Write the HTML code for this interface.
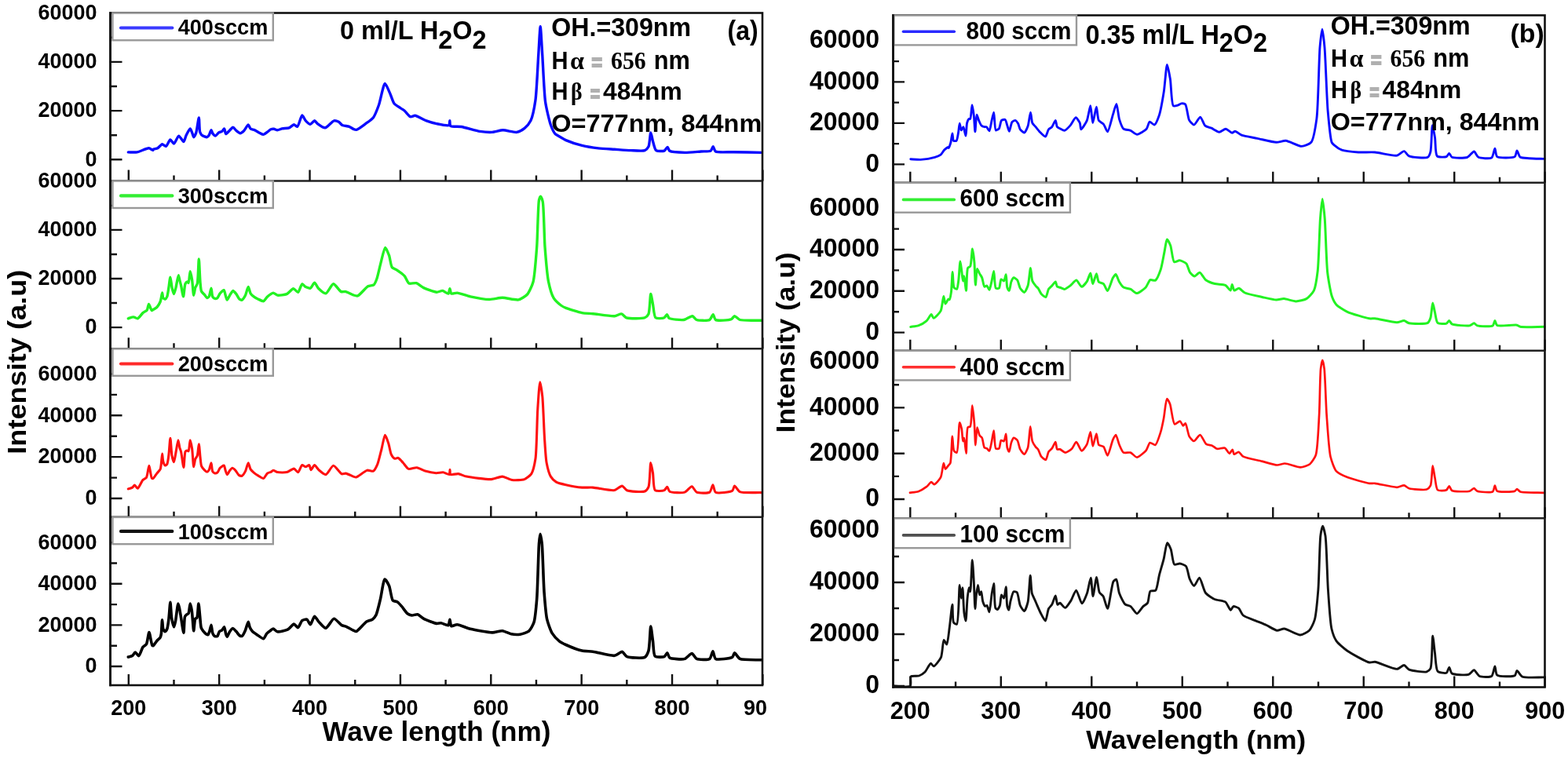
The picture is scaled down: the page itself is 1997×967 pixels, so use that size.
<!DOCTYPE html>
<html><head><meta charset="utf-8"><title>OES spectra</title>
<style>html,body{margin:0;padding:0;background:#fff;overflow:hidden;}svg{display:block;}</style>
</head><body>
<svg width="1997" height="967" viewBox="0 0 1997 967">
<rect x="0" y="0" width="1997" height="967" fill="#fff"/>
<defs><clipPath id="clipL"><rect x="0" y="0" width="976" height="967"/></clipPath></defs>
<g>
<path fill="none" stroke="#0a0aff" stroke-width="3.4" stroke-linejoin="round" stroke-linecap="round" d="M163.3 193.9C165.73 193.9 171.93 194.32 174.5 193.9C177.55 193.4 187.1 188.65 189.5 188.8C190.97 188.89 194.39 191.6 194.8 191.4C194.97 191.32 194.82 190.6 195 190.4C195.44 189.93 199.61 189.43 200.8 188.8C202.14 188.08 205.35 183.95 206.6 183.8C207.66 183.67 210.52 186.56 211.5 186.3C212.82 185.95 215.71 178.1 216.9 178C217.88 177.92 220.49 183.09 221.5 183C222.82 182.88 226.29 173.2 227.7 173.1C228.99 173.01 232.86 180.67 233.9 180.5C234.9 180.34 236.32 173.96 237.2 172.2C238.11 170.38 241.34 163.96 242.2 164C242.85 164.03 244.12 167.78 244.6 168.9C245.11 170.09 246.15 174.65 246.7 174.7C247.24 174.75 249.04 171.21 249.6 169.7C250.64 166.89 252.76 149.87 253.3 149.9C253.82 149.93 253.81 165.62 254.6 168.1C255.01 169.37 256.27 171.51 257.1 172.2C258.11 173.03 262.66 174.92 263.7 174.7C264.44 174.54 265.71 172.93 266.2 172.2C266.9 171.16 268.47 165.6 269 165.6C269.42 165.6 270.15 168.91 270.7 169.7C271.29 170.54 273.58 173.12 274.4 173.1C275.29 173.08 277.62 169.54 278.6 168.9C279.44 168.35 281.94 167.83 282.7 167.3C283.46 166.77 285.09 163.89 285.6 164C286.24 164.13 286.95 170.4 287.7 170.6C288.41 170.79 291.21 167.3 292.2 166.4C293.19 165.5 295.84 162.27 296.8 162.3C297.73 162.33 299.92 165.6 300.9 166.4C301.89 167.21 304.82 169.71 305.9 169.7C306.97 169.7 309.79 167.37 310.8 166.4C312.05 165.19 315.24 158.95 316.2 159C316.96 159.04 318.21 163.29 319.1 164C319.95 164.68 323 165.12 324.1 165.6C325.34 166.14 328.63 168.26 329.9 168.9C331.12 169.51 334.43 171.5 335.6 171.4C336.75 171.3 339.56 168.83 340.6 168.1C341.59 167.4 344.03 165.2 345 164.8C345.81 164.47 347.95 164.22 348.8 164.3C349.74 164.39 352.25 165.79 353.3 165.8C354.51 165.81 357.85 164.21 359.3 163.9C361.04 163.52 366.61 163.43 368.3 162.8C369.81 162.24 373.08 158.85 374.3 158.8C375.33 158.76 377.91 161.61 378.8 161.3C380.35 160.76 383.47 147.12 384.8 147C385.76 146.91 388.13 152.56 389.3 153.8C390.42 154.99 394.05 158.34 395.3 158.3C396.5 158.26 399.56 153.76 400.6 153.8C401.51 153.84 403.31 156.79 404.4 157.6C405.96 158.76 411.98 162.99 414.1 162.8C416.53 162.58 423.23 154.27 425.4 153.8C426.82 153.49 430.26 154.69 431.4 155.3C432.53 155.91 434.65 158.76 435.9 159.4C437.44 160.19 443.27 160.65 444.9 161.3C446.21 161.82 448.94 163.95 450 164.4C450.87 164.77 452.87 165.57 453.9 165.4C455.82 165.08 463.3 159.35 465.7 157.6C467.96 155.95 473.77 151.97 475.5 149.7C477.52 147.05 480.98 137.93 482.4 134C484.24 128.92 488.4 106.68 490.3 106.5C491.69 106.37 495.88 117.32 497.2 120.2C498.41 122.83 500.35 129.84 502.1 132C504.02 134.38 512.45 138.84 514.8 140.8C516.8 142.47 520.97 148.21 522.7 148.7C523.97 149.06 527.08 147.15 528.6 147.3C531 147.53 539.37 152.47 542.4 153.6C545.33 154.69 553 156.97 556.1 157.6C559.36 158.27 570.29 160.63 571.8 159.5C572.73 158.8 572.59 153.6 572.8 153.6C573.03 153.6 572.79 159.56 573.8 160.5C575.22 161.82 584.24 160.96 587.6 161.5C592.05 162.21 606.48 166.68 611.1 167.4C614.83 167.98 623.61 168.6 626.9 168.4C629.99 168.21 637.44 165.87 640.6 165.8C644.18 165.73 655.1 168.93 658.3 168.4C660.81 167.99 666.23 164.92 668.1 163.4C670.1 161.78 674.63 156.42 676 153.6C677.98 149.53 680.91 134.82 681.9 128.1C683.39 118.01 685.05 80.25 685.8 69.1C686.38 60.47 687.67 33.8 688.2 33.8C688.73 33.8 690.11 60.41 690.7 69.1C691.47 80.51 693.01 119.22 694.6 130C695.72 137.59 699.79 154.75 701.5 159.5C702.58 162.5 705.57 168.78 706.9 170.3C707.78 171.31 710.15 172.59 711.3 173.3C712.94 174.32 718.2 177.5 720.7 178.6C724.24 180.16 736.79 184.28 741.3 185.4C745.74 186.5 757.51 188.37 762 188.9C766.46 189.43 778.13 190.01 782.6 190.3C787.08 190.59 798.98 191.46 803.3 191.6C807.32 191.73 818.68 192.65 821.2 191.6C822.75 190.96 825.21 188.35 826 186.8C827.28 184.27 828.12 168.93 828.8 168.9C829.34 168.88 830.78 177.59 831.5 180C832.25 182.5 833.9 190.33 835.6 191.6C837.17 192.76 844.37 192.79 846 192.1C847.26 191.57 849.34 187.42 850.1 187.5C850.82 187.57 851.73 191.54 852.9 192.3C855.09 193.72 867.86 194.31 872.1 194.4C876.5 194.49 888.89 193.27 892.8 193C895.83 192.79 903.55 193.15 905.2 192.1C906.36 191.37 907.55 186.79 908.2 186.8C908.89 186.81 909.98 192.11 911.4 193C913.96 194.61 928.62 193.56 934.1 193.7C940.98 193.87 962.14 194.25 969.9 194.4"/>
<path fill="none" stroke="#22f222" stroke-width="3.4" stroke-linejoin="round" stroke-linecap="round" d="M163.3 405.8C164.75 405.39 168.64 403.85 170 403.9C171.22 403.94 174.17 406.07 175.3 405.8C176.79 405.44 180.57 399.84 182 398.6C183.16 397.59 186.49 396.02 187.3 394.9C188.19 393.66 188.88 387.45 189.5 387.4C190.16 387.35 192.51 395.37 193.3 395.6C193.68 395.71 194.54 394.8 195 394.5C195.8 393.98 199.06 392.17 200 391.2C201.08 390.09 203.52 385.88 204.1 384.5C204.56 383.39 205.05 380.75 205.3 379.6C205.59 378.26 206.33 372.9 206.6 372.9C206.87 372.9 207.2 378.71 207.8 379.6C208.19 380.19 209.8 381.29 210.3 381.2C210.89 381.09 212.36 378.9 212.8 377.9C213.54 376.21 214.47 368.9 214.9 366.3C215.36 363.54 216.46 353.1 216.9 353.1C217.34 353.1 218.42 363.79 219 366.3C219.46 368.32 220.96 374.6 221.5 374.6C222.04 374.6 223.47 368.4 224 366.3C224.73 363.45 226.7 350.61 227.3 350.6C227.69 350.59 228.54 355.77 228.9 357.2C229.26 358.63 230.21 362.1 230.6 363.8C231.17 366.28 232.93 377.91 233.5 377.9C234.11 377.88 235.05 363.34 236 361.4C236.43 360.52 237.92 358.91 238.4 358.9C238.79 358.89 239.79 360.61 240.1 360.5C240.9 360.22 241.66 345.62 242.2 345.6C242.66 345.58 244.16 353.69 244.6 356.4C245.2 360.04 246.14 376.27 246.7 376.3C247.1 376.32 248.18 368.05 248.8 366.3C249.25 365.01 250.86 362.99 251.3 361.4C252.34 357.6 252.89 329.9 253.3 329.9C253.69 329.9 254.52 354.75 255 359.7C255.3 362.8 255.75 369.51 256.6 371.3C257.18 372.53 259.62 374.49 260.4 375.4C261.16 376.29 262.98 379.49 263.7 379.6C264.24 379.68 265.74 378.56 266.2 377.9C267.09 376.64 268.51 367.18 269 367.2C269.48 367.22 269.9 376.46 270.7 377.9C271.18 378.75 272.9 380.23 273.6 380.4C274.26 380.56 276.27 380.07 276.9 379.6C277.78 378.93 279.29 374.89 280.2 373.8C281.1 372.72 284.44 369.37 285.2 369.6C285.98 369.83 286.74 374.91 287.2 376.3C287.63 377.61 288.73 382.05 289.3 382.1C289.89 382.15 291.8 377.54 292.6 376.3C293.42 375.02 295.85 370.58 296.8 370.5C297.66 370.43 300.07 373.55 300.9 374.6C301.86 375.81 304 380.45 305 381.2C305.66 381.7 307.62 382.34 308.3 382.1C309.28 381.75 311.71 377.82 312.5 376.3C313.5 374.38 315.44 365.5 316.2 365.5C316.86 365.5 318.21 372.39 319.1 373.8C319.82 374.94 322.18 377.12 323.2 377.9C324.3 378.74 327.68 380.58 329 381.2C330.36 381.84 334.36 384.01 335.6 383.7C336.89 383.37 339.49 378.93 340.6 377.9C341.54 377.02 344.11 375.15 345 374.6C345.69 374.17 347.26 373.08 348 373.1C348.99 373.13 351.86 375.82 353.3 376.1C355.33 376.5 363.06 375.56 365.3 374.6C367.41 373.69 371.93 367.84 373.6 367.8C374.99 367.77 378.48 372.57 379.6 372.3C381 371.97 383.53 362.06 384.8 361.8C385.7 361.61 388.18 365.03 389.3 365.6C390.45 366.19 394.15 367.5 395.3 367.1C396.66 366.63 399.47 360.27 400.6 360.3C401.77 360.33 404.44 366.38 405.9 367.8C407.48 369.34 413.04 374.08 414.9 373.8C417.13 373.46 422.43 361.91 424.6 361.8C426.66 361.69 432.37 370.76 434.4 371.6C435.74 372.15 438.98 371.3 440.4 371.6C442.28 372 448.17 375.34 450 375.9C451.35 376.32 454.25 377.3 455.6 376.9C457.99 376.2 466 366.22 468.6 364.8C470.32 363.86 474.89 363.87 476.1 362.9C477.35 361.9 479.03 357.59 479.8 355.5C481.09 352.01 484.16 337.66 485.4 333.1C486.51 329.03 489.33 315.51 490.6 315.4C491.6 315.32 494.7 323.21 495.6 325.7C496.64 328.58 497.77 338.6 499.3 340.6C500.37 342.01 504.39 343.29 505.9 344.3C507.79 345.57 513.57 349.84 515.2 351.7C516.76 353.48 519.09 360.07 520.8 361C522.39 361.86 528.16 360.17 530.1 360.7C532.21 361.28 537.01 365.46 539.4 366.6C542.42 368.04 553.18 372.07 556.1 372.2C558.03 372.29 562.01 370.22 563.6 370.4C565.24 370.59 570 374.54 571 374.1C571.91 373.71 572.49 367.6 572.9 367.6C573.31 367.6 573.84 373.48 574.8 374.1C575.8 374.75 580.29 372.97 582.2 373.1C585.12 373.3 595 376.94 599 377.8C603.74 378.82 618.44 381.45 623.2 381.5C627.15 381.54 636.1 379.31 639.9 379.3C644.11 379.29 656.74 382.69 660.4 381.9C663.32 381.27 669.65 377.18 671.6 375C673.84 372.49 677.77 363.63 679 359.2C680.98 352.1 682.91 324.89 683.7 314.5C684.61 302.53 685.27 260.52 686.5 254.9C686.86 253.26 687.94 250.2 688.4 250.2C688.94 250.2 690.7 254.6 691.2 256.8C692.63 263.06 693.12 302.81 694 314.5C694.78 324.81 696.99 351.44 698.6 359.2C699.71 364.57 703.04 376.3 705.1 379.7C706.71 382.36 712.48 387.57 714.4 389C715.82 390.06 718.89 391.65 720.7 392.4C723.83 393.7 737.25 397.84 741.3 398.6C744.55 399.21 751.6 399.37 755.1 399.7C760.04 400.17 778.29 403.12 782.6 402.7C785.11 402.46 789.9 399.58 791.6 399.9C793.15 400.19 795.87 404.13 797.8 404.8C801.13 405.96 818.17 406.07 821.2 404.8C822.84 404.11 825.21 401.57 826 399.9C827.53 396.67 828.07 374.53 828.8 374.5C829.32 374.48 830.88 384.48 831.5 387.5C832.21 390.98 832.98 403.15 835 404.8C836.6 406.11 844.4 405.56 846 404.8C847.12 404.26 848.73 400.55 849.4 400.6C850.08 400.65 851.03 404.64 852.2 405.4C854.34 406.8 867.36 408.02 870.8 407.5C873.56 407.08 879.9 402.41 881.8 402.7C883.28 402.93 885.63 406.88 887.3 407.5C889.8 408.44 901.53 408.75 903.8 407.5C905.4 406.62 907.37 400.54 908.2 400.6C909 400.65 909.95 406.61 911.4 407.5C913.74 408.94 928.7 407.91 931.3 406.8C932.71 406.2 934.44 402.79 935.5 402.7C936.77 402.59 940.26 406.8 942.4 407.5C946.26 408.77 963.94 408.05 969.9 408.2"/>
<path fill="none" stroke="#ff1010" stroke-width="3.1" stroke-linejoin="round" stroke-linecap="round" d="M163.3 622.9C164.43 622.51 167.58 621.68 168.5 621.1C169.31 620.59 170.82 618.08 171.5 618.1C172.28 618.12 174.42 622.38 175.3 622.3C176.62 622.18 180.52 612.95 182 611.4C182.96 610.38 185.73 609.44 186.5 608.3C187.8 606.38 189.17 593.3 189.9 593.3C190.65 593.3 192.27 608.05 193.3 609.1C193.64 609.44 194.59 609.65 195 609.5C195.89 609.18 198.96 604.22 200 602.9C200.92 601.73 203.53 599.14 204.1 597.9C204.69 596.63 205.06 592.98 205.3 591.3C205.63 588.94 206.31 578.1 206.6 578.1C206.85 578.1 207.27 586.25 207.8 588C208.19 589.31 209.65 592.83 210.3 593C210.78 593.13 212.36 591.97 212.8 591.3C213.66 589.97 214.5 582.61 214.9 579.7C215.44 575.76 216.46 558.2 216.9 558.2C217.35 558.2 218.28 576.97 219 580.6C219.44 582.84 221 588.82 221.5 588.8C222.11 588.77 223.45 579.25 224 576.4C224.62 573.2 226.32 560.7 226.9 560.7C227.36 560.7 228.42 568.83 228.9 570.6C229.25 571.88 230.23 574.14 230.6 575.6C231.32 578.46 233.31 595.52 233.9 595.5C234.48 595.48 234.99 577.45 236 575.6C236.36 574.94 237.54 574.07 238 574C238.43 573.93 239.72 575.02 240.1 574.8C241.05 574.24 241.67 560.72 242.2 560.7C242.66 560.68 244.16 568.7 244.6 571.5C245.23 575.55 246.1 594.56 246.7 594.6C247.09 594.62 248.15 586.34 248.8 584.7C249.25 583.57 250.87 581.83 251.3 580.6C252.07 578.43 252.91 565.69 253.3 565.7C253.71 565.71 254.61 578.94 255 582.2C255.33 584.94 255.8 591.88 256.6 593.8C257.18 595.2 259.55 597.95 260.4 598.8C261.09 599.49 263.05 601.34 263.7 601.3C264.3 601.26 265.72 599.59 266.2 598.8C266.98 597.5 268.52 589.67 269 589.7C269.51 589.74 269.9 598.96 270.7 600.4C271.18 601.25 272.9 602.73 273.6 602.9C274.26 603.06 276.27 602.57 276.9 602.1C277.78 601.43 279.27 597.3 280.2 596.3C281.09 595.35 284.44 592.73 285.2 593C286.01 593.29 286.72 598.28 287.2 599.6C287.62 600.77 288.74 604.55 289.3 604.6C289.89 604.66 291.83 600.54 292.6 599.6C293.28 598.77 295.12 596.35 295.9 596.3C296.74 596.25 299.25 598.71 300.1 599.6C301.07 600.63 303.16 604.73 304.2 605.4C305 605.92 307.5 606.52 308.3 606.2C309.35 605.78 311.71 601.92 312.5 600.4C313.49 598.49 315.44 589.7 316.2 589.7C316.86 589.7 318.22 596.49 319.1 597.9C319.82 599.06 322.19 601.24 323.2 602.1C324.31 603.05 327.67 605.4 329 606.2C330.35 607.01 334.37 609.79 335.6 609.5C336.91 609.2 339.41 603.78 340.6 602.9C341.49 602.24 344.16 601.73 345 601.3C345.74 600.93 347.24 599.37 348 599.3C348.97 599.21 351.88 601.31 353.3 601.6C355.34 602.02 362.95 602.16 365.3 601.6C367.46 601.09 372.66 596.9 374.3 597.1C375.66 597.26 378.55 601.78 379.6 601.6C380.88 601.38 383.51 592.99 384.8 592.6C385.7 592.33 388.32 594.8 389.3 594.8C390.29 594.8 393.17 592.3 393.9 592.6C394.71 592.93 395.42 598.5 396.1 598.6C396.84 598.71 399.56 592.64 400.6 592.6C401.68 592.56 404.51 597.38 405.9 598.6C407.52 600.01 413.02 604.86 414.9 604.6C417.1 604.3 422.4 593.39 424.6 593.3C426.8 593.21 433.15 603.11 435.2 603.8C436.41 604.21 439.13 602.93 440.4 603.1C442.19 603.34 448.42 606.57 450 607.1C450.93 607.41 452.53 608.15 453.5 608C455.58 607.68 464.89 599.81 467.6 599.2C469.48 598.78 474.12 600.78 475.5 600.1C477.07 599.33 479.79 593.66 480.8 591.3C482.2 588 484.94 576.09 486 572C487.01 568.1 489.31 554.48 490.4 554.4C491.27 554.33 493.98 562.42 494.8 564.9C495.73 567.7 497.17 576.77 498.3 579C499.08 580.54 501.62 583.92 502.7 584.3C503.57 584.61 506.14 583.12 507.1 583.4C508.43 583.79 511.94 588.07 513.3 589.5C514.8 591.08 518.4 596.72 520.3 597.4C522.21 598.08 528.65 595.43 530.9 595.7C533.22 595.98 538.91 599.36 541.4 600.1C544.19 600.93 552.8 602.59 555.5 602.7C557.62 602.79 562.47 601.59 564.3 601.8C566.08 602 571.3 605.06 572.2 604.5C572.98 604.01 572.82 598.3 573 598.3C573.18 598.3 573.04 603.82 573.9 604.5C574.97 605.34 581.48 603.36 583.6 603.6C585.86 603.86 591.17 606.46 594.1 607.1C599.08 608.19 620.34 610.97 625.8 610.6C629.47 610.35 636.89 606.96 639.8 607.1C642.57 607.24 649.22 611.08 652.1 611.5C655.28 611.96 665.19 611.67 668 610.6C670.36 609.7 675.35 605.81 676.8 603.6C678.74 600.65 681.16 589.72 682 584.3C683.47 574.78 683.97 534.26 684.7 522.7C685.26 513.85 686.89 486.73 687.7 486.7C688.29 486.68 690.25 500.15 690.8 505.2C691.72 513.68 692.84 547.94 693.5 557.9C694.02 565.62 695 583.7 696.1 589.5C696.94 593.92 699.72 604.29 701.4 607.1C702.63 609.16 706.5 612.97 708.4 614.1C710.57 615.38 717.67 617.01 720.7 617.7C724.57 618.58 737.27 620.77 741.3 621.1C744.58 621.37 751.61 620.88 755.1 621.1C760.05 621.41 778.26 625.46 782.6 624.6C785.35 624.06 790.5 618.89 792.3 619.1C793.87 619.28 796.53 623.97 798.5 624.8C801.73 626.16 818.25 627.26 821.2 626C822.88 625.28 825.2 622.29 826 620.4C827.63 616.53 828.02 589.54 828.8 589.5C829.31 589.47 830.97 599.3 831.5 602.5C832.19 606.65 832.02 622.59 834.3 624.6C835.95 626.06 844.26 625.37 846 624.6C847.21 624.06 849.07 620.31 849.8 620.4C850.58 620.5 851.58 625.37 852.9 626.2C855.16 627.63 868.87 628.16 872.1 627.1C874.61 626.28 879.4 619.64 881.1 619.8C882.65 619.94 885.36 626.2 887.3 627.1C889.85 628.28 901.59 628.54 903.8 627.1C905.54 625.96 907.08 617.67 907.9 617.7C908.72 617.73 909.65 626.19 911.4 627.3C913.93 628.9 930.35 626.98 932.7 625.3C934.03 624.35 934.62 619.24 935.5 619.1C936.58 618.93 940.1 625.54 942.4 626.6C946.18 628.34 963.94 627.38 969.9 627.6"/>
<path fill="none" stroke="#000" stroke-width="3.6" stroke-linejoin="round" stroke-linecap="round" d="M163.3 837.1C164.43 836.77 167.54 836.22 168.5 835.6C169.5 834.95 171.42 831.14 172.3 831.1C173.21 831.06 175.89 835.76 176.8 835.6C178.06 835.38 180.7 826.1 182 824.4C182.89 823.23 185.72 821.88 186.5 820.6C187.75 818.54 189.13 805.6 189.9 805.6C190.71 805.6 192.91 820.89 193.8 822.1C194.06 822.45 194.69 822.86 195 822.8C195.77 822.65 198.93 817.43 200 816.2C200.9 815.17 203.53 813.07 204.1 812.1C204.6 811.25 205.08 809.14 205.3 807.9C205.75 805.36 206.29 789.7 206.6 789.7C206.84 789.7 207.13 799.61 207.8 801.3C208.2 802.31 209.76 804.6 210.3 804.6C210.84 804.6 212.36 802.32 212.8 801.3C213.57 799.53 214.5 791.96 214.9 788.9C215.43 784.89 216.49 767.4 216.9 767.4C217.29 767.4 217.98 783.5 218.6 787.2C219.08 790.07 220.92 798.79 221.5 798.8C221.96 798.8 223.07 793.45 223.5 791.4C224.24 787.87 226.21 769.04 226.9 769C227.26 768.98 228.17 773.3 228.5 774.8C228.98 776.97 230.09 784.22 230.6 787.2C231.23 790.89 233.37 806.32 233.9 806.3C234.45 806.27 234.58 787.85 235.5 785.6C235.86 784.71 237.09 783.56 237.6 783.1C238.09 782.66 239.66 782.08 240.1 781.4C240.99 780.01 241.71 769.02 242.2 769C242.61 768.99 243.86 775.25 244.2 777.3C244.64 779.94 245.22 788.44 245.5 791.4C245.76 794.17 246.37 803.79 246.7 803.8C247.07 803.81 247.83 789.4 248.8 788.1C249.16 787.61 250.44 787.7 250.8 787.2C251.85 785.77 252.48 769 252.9 769C253.29 769 254.24 781.34 254.6 784.7C254.95 787.97 255.47 797.41 256.2 799.6C256.62 800.85 258.03 802.94 258.7 803.8C259.43 804.74 262.01 807.39 262.8 807.9C263.29 808.22 264.51 808.87 264.9 808.7C265.5 808.44 266.59 804.99 267 803.8C267.5 802.36 268.62 796.28 269 796.3C269.44 796.32 270.08 804.65 270.7 806.3C271.12 807.43 272.46 809.98 273.2 810.4C273.85 810.76 276.27 810.82 276.9 810.4C277.73 809.86 278.64 805.42 279.4 804.6C279.98 803.97 282.07 803.45 282.7 802.9C283.44 802.26 285.1 798.7 285.6 798.8C286.29 798.94 287.18 806.44 287.7 807.9C288.02 808.82 288.9 811.2 289.3 811.2C289.83 811.2 291.44 806.56 292.2 805.4C292.96 804.25 295.35 800.57 296.3 800.5C297.24 800.43 299.97 803.63 300.9 804.6C301.86 805.6 304.05 809.01 305 809.6C305.69 810.03 307.64 810.69 308.3 810.4C309.35 809.94 311.69 804.71 312.5 802.9C313.43 800.82 315.54 792.18 316.2 792.2C316.75 792.22 317.66 798.2 318.3 799.6C318.87 800.84 320.67 803.64 321.6 804.6C322.61 805.64 326.02 807.79 327.4 808.7C329.01 809.76 334.23 814.02 335.6 813.7C336.84 813.41 338.73 808.3 339.8 807.1C340.79 805.99 344.01 803.59 345 802.9C345.72 802.4 347.27 801.07 348 801.1C349 801.13 351.81 804.5 353.3 804.8C355.49 805.23 364.43 803.02 366.8 801.8C368.83 800.76 372.81 795.12 374.3 795.1C375.54 795.08 378.55 799.78 379.6 799.6C380.88 799.38 383.36 791.69 384.8 790.6C385.91 789.76 389.71 788.68 390.8 789.1C392.05 789.58 394.34 795.86 395.3 795.8C396.46 795.73 399.35 785.42 400.6 785.3C401.67 785.2 404.53 790.62 405.9 792.1C407.53 793.86 412.93 800.41 414.9 800.3C417.15 800.17 423.08 788.47 425.4 788.3C427.48 788.14 433.31 795.59 435.2 796.6C436.43 797.26 439.13 797.59 440.4 798.1C442.19 798.82 448.39 802.38 450 803.1C450.97 803.54 452.73 804.7 453.7 804.5C455.77 804.08 464.21 793.63 466.8 792C468.51 790.92 472.87 790.14 474.2 789.2C475.47 788.3 478 785.33 478.9 783.6C480.44 780.65 483.35 767.78 484.5 763.1C485.77 757.95 488.35 738.31 490 738C491.03 737.81 494.59 744.12 495.6 746.4C497 749.55 498.53 763.11 500.3 765C501.28 766.05 504.76 766.11 505.9 766.8C507.22 767.6 510.24 770.99 511.5 772.4C513.04 774.12 517.24 780.45 518.9 781.7C520.08 782.59 523.18 783.86 524.5 784C525.97 784.16 530.36 782.34 531.9 782.7C533.61 783.1 537.36 787.1 539.4 788.2C542.22 789.72 553.42 794.06 556.1 794.4C557.61 794.59 560.35 793.67 561.7 793.8C563.48 793.97 569.81 797.27 571 796.6C572.06 796 572.5 789.19 572.9 789.2C573.32 789.21 573.72 796.94 574.8 797.6C575.81 798.22 580.28 795.63 582.2 795.7C585.12 795.8 594.85 800.27 599 801.3C604.24 802.6 622 805.91 626.9 805.9C630.25 805.89 637.22 803.45 639.9 803.7C642.45 803.93 648.63 807.32 651.1 807.8C653.49 808.27 659.91 808.58 662.3 808.2C664.77 807.81 671.6 805.69 673.5 804.1C675.48 802.44 678.94 796.05 680 792.9C681.61 788.11 683.06 770.95 683.7 763.1C684.69 751.04 685.77 701.26 686.5 692.3C686.8 688.58 687.6 680.21 688 680.2C688.4 680.19 689.79 688.65 690.2 692.3C691.12 700.47 692.14 742.31 693 753.8C693.65 762.53 695.23 782.92 696.7 789.2C697.77 793.77 701.37 803.74 703.3 806.9C704.95 809.6 710.51 815.46 712.6 817.1C714.31 818.44 718.5 820.5 720.7 821.5C724.1 823.04 737.23 828.2 741.3 829.1C744.54 829.81 751.61 829.74 755.1 830.2C760.06 830.86 778.24 835.92 782.6 835.3C785.32 834.91 790.52 830.11 792.3 830.4C793.9 830.66 796.5 835.74 798.5 836.6C801.72 837.99 818.29 838.91 821.2 837.3C823.08 836.26 825.21 831.57 826 829.1C827.43 824.64 828.11 798.12 828.8 798.1C829.34 798.09 830.91 812.63 831.5 816.7C832.1 820.84 832.19 834.08 834.3 836C835.93 837.49 844.28 837.38 846 836.6C847.25 836.04 849.07 831.72 849.8 831.8C850.58 831.88 851.54 837.09 852.9 838C855.16 839.51 868.86 840.37 872.1 839.4C874.59 838.66 879.39 832.34 881.1 832.5C882.64 832.64 885.38 838.55 887.3 839.4C889.86 840.54 901.59 840.86 903.8 839.4C905.55 838.24 907.07 829.78 907.9 829.8C908.72 829.82 909.65 838.3 911.4 839.4C913.93 840.99 930.35 838.9 932.7 837.3C933.96 836.44 934.65 831.91 935.5 831.8C936.59 831.65 940.09 838.31 942.4 839.4C946.18 841.19 963.94 840.5 969.9 840.8"/>
<rect x="140.5" y="16.5" width="830.5" height="856.5" fill="none" stroke="#111" stroke-width="2.6"/>
<line x1="140.5" y1="230.5" x2="971" y2="230.5" stroke="#222" stroke-width="2.6"/>
<line x1="140.5" y1="444.3" x2="971" y2="444.3" stroke="#222" stroke-width="2.6"/>
<line x1="140.5" y1="658.8" x2="971" y2="658.8" stroke="#222" stroke-width="2.6"/>
<path d="M140.5 203.3h15M140.5 172.2h8.5M140.5 141.1h15M140.5 110h8.5M140.5 78.9h15M140.5 47.8h8.5M163.8 230.5v-14M221.49 230.5v-7M279.17 230.5v-14M336.86 230.5v-7M394.54 230.5v-14M452.23 230.5v-7M509.91 230.5v-14M567.6 230.5v-7M625.28 230.5v-14M682.96 230.5v-7M740.65 230.5v-14M798.34 230.5v-7M856.02 230.5v-14M913.7 230.5v-7M971.39 230.5v-14M140.5 417.1h15M140.5 386.05h8.5M140.5 355h15M140.5 323.95h8.5M140.5 292.9h15M140.5 261.85h8.5M163.8 444.3v-14M221.49 444.3v-7M279.17 444.3v-14M336.86 444.3v-7M394.54 444.3v-14M452.23 444.3v-7M509.91 444.3v-14M567.6 444.3v-7M625.28 444.3v-14M682.96 444.3v-7M740.65 444.3v-14M798.34 444.3v-7M856.02 444.3v-14M913.7 444.3v-7M971.39 444.3v-14M140.5 635h15M140.5 608.58h8.5M140.5 582.15h15M140.5 555.73h8.5M140.5 529.3h15M140.5 502.88h8.5M140.5 476.45h15M163.8 658.8v-14M221.49 658.8v-7M279.17 658.8v-14M336.86 658.8v-7M394.54 658.8v-14M452.23 658.8v-7M509.91 658.8v-14M567.6 658.8v-7M625.28 658.8v-14M682.96 658.8v-7M740.65 658.8v-14M798.34 658.8v-7M856.02 658.8v-14M913.7 658.8v-7M971.39 658.8v-14M140.5 849h15M140.5 822.7h8.5M140.5 796.4h15M140.5 770.1h8.5M140.5 743.8h15M140.5 717.5h8.5M140.5 691.2h15M163.8 873v-14M221.49 873v-7M279.17 873v-14M336.86 873v-7M394.54 873v-14M452.23 873v-7M509.91 873v-14M567.6 873v-7M625.28 873v-14M682.96 873v-7M740.65 873v-14M798.34 873v-7M856.02 873v-14M913.7 873v-7M971.39 873v-14" stroke="#111" stroke-width="2.4" fill="none"/>
<g font-family="'Liberation Sans', Arial, Helvetica, sans-serif" font-weight="bold" font-size="28" fill="#000" text-anchor="end">
<text x="123.5" y="25" textLength="75" lengthAdjust="spacingAndGlyphs">60000</text>
<text x="123.5" y="87.2" textLength="75" lengthAdjust="spacingAndGlyphs">40000</text>
<text x="123.5" y="149.4" textLength="75" lengthAdjust="spacingAndGlyphs">20000</text>
<text x="123.5" y="211.6" textLength="15" lengthAdjust="spacingAndGlyphs">0</text>
<text x="123.5" y="239.1" textLength="75" lengthAdjust="spacingAndGlyphs">60000</text>
<text x="123.5" y="301.2" textLength="75" lengthAdjust="spacingAndGlyphs">40000</text>
<text x="123.5" y="363.3" textLength="75" lengthAdjust="spacingAndGlyphs">20000</text>
<text x="123.5" y="425.4" textLength="15" lengthAdjust="spacingAndGlyphs">0</text>
<text x="123.5" y="484.75" textLength="75" lengthAdjust="spacingAndGlyphs">60000</text>
<text x="123.5" y="537.6" textLength="75" lengthAdjust="spacingAndGlyphs">40000</text>
<text x="123.5" y="590.45" textLength="75" lengthAdjust="spacingAndGlyphs">20000</text>
<text x="123.5" y="643.3" textLength="15" lengthAdjust="spacingAndGlyphs">0</text>
<text x="123.5" y="699.5" textLength="75" lengthAdjust="spacingAndGlyphs">60000</text>
<text x="123.5" y="752.1" textLength="75" lengthAdjust="spacingAndGlyphs">40000</text>
<text x="123.5" y="804.7" textLength="75" lengthAdjust="spacingAndGlyphs">20000</text>
<text x="123.5" y="857.3" textLength="15" lengthAdjust="spacingAndGlyphs">0</text>
</g>
<g font-family="'Liberation Sans', Arial, Helvetica, sans-serif" font-weight="bold" font-size="28.5" fill="#000" text-anchor="middle" clip-path="url(#clipL)">
<text x="163.8" y="911" textLength="45" lengthAdjust="spacingAndGlyphs">200</text>
<text x="279.17" y="911" textLength="45" lengthAdjust="spacingAndGlyphs">300</text>
<text x="394.54" y="911" textLength="45" lengthAdjust="spacingAndGlyphs">400</text>
<text x="509.91" y="911" textLength="45" lengthAdjust="spacingAndGlyphs">500</text>
<text x="625.28" y="911" textLength="45" lengthAdjust="spacingAndGlyphs">600</text>
<text x="740.65" y="911" textLength="45" lengthAdjust="spacingAndGlyphs">700</text>
<text x="856.02" y="911" textLength="45" lengthAdjust="spacingAndGlyphs">800</text>
<text x="969.5" y="911" textLength="45" lengthAdjust="spacingAndGlyphs">900</text>
</g>
<path fill="none" stroke="#0a0aff" stroke-width="2.9" stroke-linejoin="round" stroke-linecap="round" d="M1159.8 202.8C1162.55 202.93 1169.52 203.57 1172.5 203.4C1176.09 203.19 1187.57 201.3 1190.6 200.4C1192.62 199.8 1196.78 198.14 1198.1 197.1C1199.36 196.1 1201.5 192.18 1202.6 191.1C1203.62 190.11 1207.28 187.25 1207.8 187.4C1208.03 187.47 1208.16 188.6 1208.3 188.6C1208.65 188.59 1210.43 183.16 1210.9 181.4C1211.48 179.23 1212.49 170 1212.9 170C1213.27 170 1213.59 178.53 1214.5 179.3C1215.06 179.78 1217.49 179.79 1218.1 179.3C1219.21 178.42 1220.25 170.35 1220.7 167.9C1221.13 165.54 1221.78 157.12 1222.2 157.1C1222.58 157.08 1223.67 165.8 1224.3 165.9C1224.77 165.98 1226.39 161.63 1226.9 161.7C1227.69 161.82 1229.5 173.14 1230 173.1C1230.59 173.05 1230.89 159.13 1231.6 156.6C1232.02 155.11 1233.48 151.79 1234.1 151.4C1234.43 151.2 1235.4 151.66 1235.7 151.4C1236.71 150.52 1237.57 133.81 1238.1 133.8C1238.57 133.79 1239.91 143.97 1240.3 147.2C1240.78 151.19 1241.51 167.9 1241.9 167.9C1242.3 167.9 1243.23 146.3 1244 146.2C1244.45 146.14 1245.97 151.91 1246.6 153.4C1247.21 154.83 1248.79 158.79 1249.7 159.7C1250.43 160.43 1252.99 161.51 1253.8 161.7C1254.41 161.84 1255.86 161.42 1256.4 161.7C1257.24 162.14 1259.35 167.02 1260 166.9C1260.96 166.72 1262.44 156.12 1263.1 153.4C1263.67 151.01 1265.21 143.07 1265.7 143.1C1266.42 143.15 1266.76 165.07 1268.3 165.9C1268.99 166.27 1271.69 164.65 1272.4 163.8C1273.49 162.49 1274.31 154.5 1275.5 153.4C1276.29 152.67 1279.43 151.97 1280.2 152.4C1281.17 152.94 1282.25 158.09 1282.8 159.7C1283.36 161.34 1284.71 167.4 1285.3 167.4C1286.03 167.4 1287.79 156.94 1289 155.5C1289.74 154.62 1292.3 153.24 1293.1 153.4C1293.98 153.57 1296.06 156.5 1296.7 157.6C1297.45 158.9 1298.4 163.54 1299.3 164.8C1300.14 165.97 1303.51 169.19 1304.5 169C1305.68 168.77 1308.3 162.91 1309.1 160.7C1310.2 157.66 1311.85 143.09 1312.5 143.1C1313.07 143.11 1313.82 154.46 1314.8 156.6C1315.48 158.08 1318.05 160.54 1319 161.7C1320.05 162.98 1322.83 166.61 1324.1 167.9C1325.49 169.31 1330.17 174.38 1331.4 174.1C1332.66 173.81 1334.39 166.19 1335.5 164.8C1336.3 163.81 1338.86 162.65 1339.7 161.7C1340.83 160.41 1343.57 153.31 1344.3 153.4C1344.99 153.49 1345.55 160.58 1346.4 161.7C1346.99 162.48 1349.11 163.35 1350 163.8C1351.09 164.35 1354.53 166.51 1355.8 166.3C1357.4 166.04 1361.81 161.29 1363.3 159.6C1364.93 157.76 1368.7 149.83 1370.1 149.8C1371.28 149.77 1374.57 154.96 1375.3 156.6C1376.02 158.22 1376.06 164.65 1376.8 164.8C1377.75 165 1383.04 156.47 1384.3 153.6C1385.8 150.16 1388 134.76 1388.8 134.8C1389.65 134.84 1390.96 156.56 1391.8 156.6C1392.62 156.64 1395.55 136.28 1396.4 136.3C1397.18 136.32 1397.94 151.22 1399.4 153.6C1400.35 155.16 1404.27 156.78 1405.4 158.1C1406.77 159.7 1409.52 167.9 1410.6 167.8C1412.16 167.65 1416.06 150.25 1417.4 146.1C1418.46 142.81 1421.06 132.44 1421.9 132.5C1422.89 132.57 1424.46 148.43 1425.6 152.1C1426.53 155.08 1429.11 162.6 1430.9 164.1C1432.4 165.36 1438.05 165.54 1439.9 166.3C1441.78 167.07 1446.15 171.19 1448.1 171.2C1450.46 171.22 1458.44 166.16 1460.2 164.2C1461.68 162.55 1462.98 155.46 1464.2 155.1C1465.24 154.8 1469.04 159.41 1470.2 159.1C1471.79 158.68 1475.16 150.31 1476.3 147C1478.02 142.01 1481.22 123.57 1482.3 116.8C1483.44 109.63 1485.34 82.55 1486.4 82.5C1487.18 82.46 1489.63 96.12 1490.4 100.7C1491.45 106.93 1491.95 133.05 1494.4 134.9C1495.44 135.68 1499.34 134.27 1500.5 133.9C1501.49 133.58 1503.56 132.03 1504.5 131.9C1505.52 131.76 1508.68 132.03 1509.6 132.9C1511.44 134.65 1512.92 150.15 1514.6 153.1C1515.68 154.99 1519.34 159.18 1520.7 159.1C1522.37 159 1527.17 148.97 1528.7 149.1C1530.22 149.23 1533.05 158.58 1534.8 160.1C1536.24 161.36 1540.98 162.4 1542.8 163.2C1544.88 164.12 1550.83 168.2 1552.9 168.2C1554.75 168.2 1559.27 164.12 1561 164.2C1562.78 164.28 1567.64 169.13 1569.1 169.2C1570.1 169.24 1572.1 167.16 1573.1 167.2C1574.56 167.27 1578.95 171.31 1581.2 172.2C1584.5 173.51 1596.74 175.36 1601.3 176.3C1606.3 177.33 1621.15 181.21 1625.5 181.3C1628.56 181.36 1634.68 179.05 1637.6 179.3C1641.46 179.64 1654 186.52 1657.8 186.4C1660.78 186.31 1667.92 183.65 1669.9 181.3C1672.94 177.69 1675.75 159.47 1676.9 151.1C1678.87 136.77 1679.85 73.49 1681 60.3C1681.58 53.61 1683.35 37.1 1684 37.1C1684.65 37.1 1686.41 53.74 1687 60.3C1688.1 72.49 1689.84 126.54 1691.1 141C1692 151.25 1694.36 177.38 1696.1 181.3C1696.69 182.64 1698.26 184.08 1699.2 184.9C1700.67 186.18 1706.34 190.22 1709 191.2C1712.59 192.52 1725.52 193.7 1730.1 194C1734.65 194.3 1746.24 193.64 1751.1 194C1756.75 194.42 1774.8 199.08 1779.1 198.2C1781.74 197.66 1786.47 192.4 1788.2 192.6C1789.79 192.78 1792.54 197.98 1794.6 198.9C1797.96 200.39 1815.68 201.87 1818.4 200.3C1819.96 199.4 1821.31 195.47 1821.9 193.3C1823.13 188.8 1823.49 159.65 1824.3 159.6C1824.86 159.56 1826.9 171.37 1827.5 175.1C1828.24 179.69 1827.91 196.64 1830.3 198.9C1831.99 200.49 1840.49 200.34 1842.2 199.6C1843.36 199.1 1844.96 195.37 1845.7 195.4C1846.48 195.43 1847.87 199.62 1849.2 200.3C1851.6 201.54 1865.69 201.5 1868.9 200.3C1871.32 199.4 1875.73 192.84 1877.3 193C1878.72 193.14 1881.06 199.34 1882.9 200.3C1885.39 201.59 1897.45 202.52 1899.7 201C1901.65 199.68 1903.12 189.07 1903.9 189.1C1904.62 189.13 1904.95 198.26 1906.7 199.6C1909.21 201.53 1926.74 201.32 1929.2 199.6C1930.69 198.56 1931.28 191.94 1932 191.9C1932.78 191.86 1934.67 199.22 1936.2 200.3C1937.88 201.49 1944.63 201.48 1947.4 201.7C1951.05 201.99 1962.75 202.25 1967 202.4"/>
<path fill="none" stroke="#22f222" stroke-width="3.0" stroke-linejoin="round" stroke-linecap="round" d="M1159.8 416.4C1161.9 416.07 1167.42 415.63 1169.5 414.9C1171.81 414.09 1178.16 410.54 1180 408.9C1181.7 407.39 1185.03 400.57 1186.1 400.6C1186.88 400.62 1188.2 405.11 1189.1 405.2C1190.47 405.34 1196.73 398.68 1198.1 396.1C1199.77 392.95 1201.06 377.41 1201.8 377.4C1202.33 377.39 1203.35 386.98 1204.1 387.1C1204.73 387.2 1207.08 381.34 1207.8 381.1C1208.14 380.99 1209.02 381.85 1209.3 381.7C1209.99 381.34 1211.03 374.94 1211.4 372.4C1212.01 368.22 1212.78 346.6 1213.2 346.6C1213.57 346.6 1213.72 364.18 1215 366.2C1215.59 367.13 1218.01 368.56 1218.6 368.3C1219.54 367.88 1220.3 360.65 1220.7 357.9C1221.32 353.69 1222.47 333.11 1223 333.1C1223.37 333.09 1224.43 342.81 1224.8 345.5C1225.17 348.19 1225.99 357.88 1226.4 357.9C1226.69 357.92 1227.57 351.68 1227.9 351.7C1228.46 351.73 1230.02 370.32 1230.5 370.3C1231.09 370.28 1231.11 343.99 1232.6 341.4C1233.14 340.47 1235.15 340.19 1235.7 339.3C1237.04 337.11 1237.9 317.1 1238.5 317.1C1239.03 317.1 1240.5 329.92 1240.9 334.1C1241.42 339.54 1241.96 363.09 1242.4 363.1C1242.77 363.11 1243.6 342.57 1244.5 342.4C1245.02 342.3 1246.9 347.33 1247.6 348.6C1248.25 349.79 1250.11 352.41 1250.7 353.8C1251.53 355.75 1252.73 364.64 1253.8 365.2C1254.36 365.49 1256.3 363.88 1256.9 364.1C1257.71 364.39 1259.41 369.38 1260 369.3C1260.83 369.19 1262.49 360.43 1263.1 357.9C1263.73 355.28 1265.19 345.48 1265.7 345.5C1266.36 345.53 1266.7 365.78 1268.3 367.2C1268.99 367.82 1271.72 367.74 1272.4 367.2C1273.55 366.29 1273.97 356.36 1275 355.9C1275.61 355.63 1277.98 358.15 1278.6 357.9C1279.5 357.54 1280.77 349.65 1281.2 349.7C1281.8 349.76 1282.02 363.88 1282.8 366.2C1283.22 367.45 1284.83 370.38 1285.3 370.3C1286.03 370.18 1287.12 360.93 1287.9 359C1288.46 357.6 1290.13 354 1291 353.8C1291.84 353.61 1294.87 355.84 1295.7 356.9C1296.85 358.38 1298.19 365.44 1299.3 367.2C1300.21 368.64 1303.49 372.54 1304.5 372.4C1305.65 372.24 1308.31 366.43 1309.1 364.1C1310.33 360.47 1311.85 341.4 1312.5 341.4C1313.06 341.4 1313.79 355.27 1314.8 357.9C1315.48 359.67 1318.11 363.02 1319 364.1C1319.68 364.93 1321.44 366.33 1322.1 367.2C1323.01 368.4 1325.07 373.24 1326.2 374.5C1327.23 375.66 1330.94 378.9 1331.9 378.6C1333.1 378.22 1334.46 369.96 1335.5 368.3C1336.27 367.08 1338.78 365.07 1339.7 364.1C1340.69 363.06 1343.57 358.85 1344.3 359C1345.01 359.15 1345.62 364.46 1346.4 365.2C1346.99 365.76 1349.13 365.92 1350 366.2C1351.11 366.57 1354.49 368.52 1355.8 368.4C1357.36 368.25 1361.73 364.97 1363.3 363.8C1364.98 362.55 1369.27 356.99 1370.8 357.1C1372.37 357.22 1376.09 365.23 1377.6 365.3C1379.02 365.37 1383.12 360.35 1384.3 358.6C1385.6 356.68 1388.01 348.03 1388.8 348.1C1389.67 348.18 1390.97 361.55 1391.8 361.6C1392.62 361.65 1395.55 348.77 1396.4 348.8C1397.16 348.83 1398.16 357.94 1399.4 359.3C1400.35 360.34 1404.28 360.65 1405.4 361.6C1406.82 362.81 1409.47 370.67 1410.6 370.6C1412.08 370.5 1415.97 356.49 1417.4 354.1C1418.22 352.74 1420.33 349.5 1421.1 349.6C1422.14 349.73 1424.46 357.44 1425.6 359.3C1426.62 360.97 1429.39 365.11 1430.9 366.1C1432.46 367.12 1438.08 367.59 1439.9 368.4C1441.72 369.21 1445.84 373.58 1447.7 373.6C1449.93 373.62 1457.2 368.25 1459.1 366.3C1460.83 364.53 1463.29 357.54 1464.9 356.7C1466.14 356.05 1470.34 357.84 1471.6 357.1C1473.5 355.99 1477.12 346.75 1478.3 343.3C1479.76 339.04 1482.17 324.86 1483.1 320.4C1483.86 316.75 1485.28 305.26 1486.3 305.1C1487.07 304.98 1489.86 310.56 1490.7 312.7C1492.02 316.06 1493.49 332.63 1495.5 333.8C1496.64 334.47 1500.68 331.7 1502.2 331.8C1503.97 331.92 1509.38 334.24 1510.8 335.7C1512.43 337.38 1514.24 345.37 1515.6 347.2C1516.65 348.61 1519.99 351.85 1521.3 351.9C1522.67 351.95 1526.59 347 1528 347.2C1529.73 347.44 1533.63 355.15 1535.7 356.7C1537.79 358.26 1544.56 360.78 1547.2 361.5C1549.95 362.25 1558.34 362.26 1560.6 363.4C1562.48 364.35 1566.27 370.35 1567.2 370.1C1568.05 369.87 1568.69 362.52 1569.2 362.5C1569.72 362.47 1570.97 369.69 1572 370.1C1572.92 370.46 1576.5 367.08 1577.8 367.2C1579.38 367.35 1583.16 371.93 1585.4 373C1588.92 374.69 1603.77 377.68 1608.4 378.7C1612.38 379.58 1622.41 381.93 1625.6 382C1627.98 382.05 1632.89 380.52 1635.2 380.6C1638.14 380.7 1647.3 383.95 1650.5 383.9C1653.5 383.86 1661.43 382.08 1663.9 380.6C1666.4 379.11 1671.89 373.13 1673.4 370.1C1675.42 366.05 1677.39 351.94 1678.2 345.2C1679.52 334.25 1680.64 289.28 1681.5 278.3C1682.03 271.59 1683.58 253.4 1684.2 253.4C1684.82 253.4 1686.62 271.55 1687.2 278.3C1688.16 289.5 1689.3 335.3 1690.7 347.2C1691.64 355.2 1694.71 373.01 1696.4 377.8C1697.44 380.75 1700.18 386.22 1702 388.2C1704.17 390.56 1712.3 395.58 1716 397.3C1720.91 399.58 1740.02 405.2 1744.1 405.8C1746.09 406.1 1749.09 405.63 1751.1 405.8C1755.15 406.15 1774.7 410.82 1779.1 410.7C1781.62 410.63 1786.43 408.39 1788.2 408.6C1789.74 408.78 1792.7 411.37 1794.6 411.8C1798.06 412.59 1815.68 413.03 1818.4 411.4C1819.9 410.5 1821.29 406.9 1821.9 405.1C1822.9 402.15 1824.01 386.13 1824.7 386.1C1825.25 386.08 1826.84 395.35 1827.5 398C1828.2 400.82 1829.22 409.94 1831 411.4C1832.6 412.72 1840.55 412.73 1842.2 412.1C1843.3 411.68 1844.96 408.57 1845.7 408.6C1846.48 408.64 1847.9 412.12 1849.2 412.8C1851.84 414.19 1868.52 415.57 1871.7 414.9C1873.39 414.55 1876.19 411.73 1877.3 411.8C1878.3 411.87 1880.15 414.46 1881.5 414.9C1884.11 415.76 1898.88 416.34 1901.1 414.9C1902.42 414.04 1903.29 408.61 1903.9 408.6C1904.5 408.59 1905.35 413.75 1906.7 414.6C1909.34 416.25 1928.87 413.49 1932 414.2C1933.35 414.51 1934.81 415.97 1936.2 416.3C1939.75 417.14 1960.33 416.3 1967 416.3"/>
<path fill="none" stroke="#ff1010" stroke-width="2.7" stroke-linejoin="round" stroke-linecap="round" d="M1159 627.7C1161.28 627.38 1167.29 626.96 1169.5 626.2C1171.85 625.39 1178.11 621.63 1180 620.2C1181.59 618.99 1184.92 614.26 1186.1 614.2C1186.98 614.16 1188.88 617.27 1189.8 617.2C1191.28 617.09 1196.82 610.71 1198.1 608.2C1199.68 605.12 1201.02 590.14 1201.8 590.1C1202.31 590.08 1203.37 597.46 1204.1 597.6C1204.73 597.72 1207.08 593.99 1207.8 593.1C1208.4 592.37 1209.85 591.14 1210.3 590C1211.63 586.65 1212.31 555.91 1212.9 555.9C1213.34 555.89 1213.72 572.58 1215 574.5C1215.6 575.4 1217.95 576.84 1218.6 576.5C1220.59 575.45 1221.15 538.41 1222.2 538.3C1222.7 538.25 1224.37 544.5 1224.8 546.6C1225.38 549.41 1225.88 562.04 1226.4 562.1C1226.68 562.13 1227.59 557.87 1227.9 557.9C1228.55 557.97 1230.03 577.62 1230.5 577.6C1231.11 577.58 1230.87 546.79 1232.6 544.5C1233.15 543.78 1235.15 544.1 1235.7 543.4C1237.27 541.39 1237.71 516.61 1238.3 516.6C1238.84 516.6 1240.46 534.12 1240.9 539.3C1241.38 545.03 1241.98 567.19 1242.4 567.2C1242.78 567.21 1243.74 544.58 1244.5 544.5C1245.03 544.45 1246.7 553.29 1247.6 554.8C1248.18 555.77 1250.13 556.9 1250.7 557.9C1251.67 559.62 1252.7 569.08 1253.8 570.3C1254.36 570.92 1256.27 571 1256.9 571.4C1257.63 571.86 1259.43 574.66 1260 574.5C1260.97 574.23 1262.49 564.85 1263.1 562.1C1263.73 559.25 1265.19 548.58 1265.7 548.6C1266.36 548.63 1266.66 569.93 1268.3 571.4C1269 572.02 1271.72 571.93 1272.4 571.4C1273.5 570.54 1273.96 561.59 1275 561C1275.61 560.65 1277.98 562.44 1278.6 562.1C1279.59 561.56 1280.77 552.76 1281.2 552.8C1281.78 552.85 1282.07 567.67 1282.8 570.3C1283.22 571.81 1284.82 575.55 1285.3 575.5C1285.99 575.42 1287.16 566.16 1287.9 564.1C1288.47 562.51 1290.09 558.14 1291 557.9C1291.82 557.68 1294.88 559.91 1295.7 561C1296.9 562.59 1298.2 570.39 1299.3 572.4C1300.21 574.05 1303.47 578.7 1304.5 578.6C1305.61 578.49 1308.33 572.71 1309.1 570.3C1310.41 566.22 1311.53 543.41 1312.2 543.4C1312.76 543.39 1313.75 559.07 1314.8 562.1C1315.5 564.11 1318.08 568.11 1319 569.3C1319.67 570.16 1321.46 571.47 1322.1 572.4C1323.07 573.82 1324.99 580.19 1326.2 581.7C1327.21 582.96 1330.94 586.2 1331.9 585.9C1333.1 585.53 1334.45 577.15 1335.5 575.5C1336.27 574.29 1338.85 572.52 1339.7 571.4C1340.79 569.98 1343.57 563 1344.3 563.1C1345.03 563.2 1345.44 571.63 1346.4 572.4C1346.99 572.87 1349.14 572.15 1350 572.4C1351.26 572.77 1355.08 576.55 1356.6 576.6C1358.27 576.65 1363.3 573.48 1364.8 572.1C1366.42 570.62 1369.48 563.07 1370.8 563.1C1372.25 563.13 1376.05 574.29 1377.6 574.4C1378.99 574.5 1383.15 568.33 1384.3 566.1C1385.73 563.34 1388 550.25 1388.8 550.3C1389.65 550.35 1390.94 568.35 1391.8 568.4C1392.61 568.45 1395.56 552.57 1396.4 552.6C1397.19 552.63 1397.97 565.12 1399.4 566.8C1400.35 567.92 1404.31 568.07 1405.4 569.1C1406.92 570.53 1409.47 580.46 1410.6 580.4C1412.08 580.32 1415.98 563.14 1417.4 560.1C1418.22 558.35 1420.34 554.02 1421.1 554.1C1422.15 554.21 1424.47 564.27 1425.6 566.8C1426.62 569.1 1429.21 575.59 1430.9 576.6C1432.42 577.5 1438.1 576 1439.9 576.6C1441.8 577.23 1446 582.6 1447.9 582.6C1450.21 582.6 1457.86 576 1459.7 573.8C1461.29 571.9 1463.14 564.54 1464.6 564C1465.8 563.56 1470.13 567.42 1471.4 566.9C1473.39 566.09 1477.13 553.92 1478.3 550.2C1479.47 546.47 1481.4 536.66 1482.2 532.5C1483.13 527.63 1484.93 508.23 1486.2 508C1486.92 507.87 1489.31 512.78 1490.1 514.8C1491.55 518.5 1493.79 539.43 1496 540.4C1497.21 540.93 1501.71 536.21 1502.9 536.5C1504.02 536.77 1505.96 542.31 1506.8 542.4C1507.45 542.47 1509.19 539.24 1509.8 539.4C1511.03 539.71 1513.17 553.53 1514.7 556.1C1515.76 557.88 1519.23 562 1520.6 562C1522.17 561.99 1526.79 553.95 1528.4 554.1C1530.22 554.27 1534.28 564.47 1536.3 565.9C1537.82 566.97 1542.58 567.22 1544.1 567.9C1545.53 568.53 1548.48 571.43 1550 571.8C1551.8 572.24 1558.17 570.11 1559.9 570.8C1561.55 571.46 1564.66 577.72 1565.8 577.7C1566.74 577.68 1569.06 572.69 1569.7 572.8C1570.34 572.91 1570.87 578.35 1571.7 578.7C1572.56 579.06 1576.4 575.6 1577.6 575.8C1578.95 576.03 1581.51 580.62 1583.4 581.7C1586.64 583.56 1602.12 586.38 1607 587.6C1611.46 588.71 1623.16 592.42 1626.7 592.5C1629.18 592.55 1634.02 590.45 1636.5 590.5C1640.04 590.58 1652.49 595.54 1656.2 595.4C1659.1 595.29 1665.91 593.1 1668 591.5C1670.23 589.8 1674.52 583.38 1675.8 579.7C1678.23 572.7 1679.42 540.07 1680.1 528.6C1680.83 516.3 1681.2 477.36 1682.1 469.7C1682.49 466.37 1683.81 458.8 1684.3 458.8C1684.79 458.8 1686.17 466.37 1686.6 469.7C1687.6 477.35 1688.71 516.18 1689.6 528.6C1690.45 540.41 1692.46 573.24 1694.5 581.7C1695.75 586.9 1699.43 597.5 1702 600.4C1704.29 602.98 1712.34 606.62 1716 608.1C1720.94 610.1 1740.02 615.25 1744.1 615.8C1746.1 616.07 1749.09 615.62 1751.1 615.8C1755.16 616.16 1774.71 620.98 1779.1 620.8C1781.63 620.7 1786.45 618.15 1788.2 618.4C1789.76 618.62 1792.7 621.61 1794.6 622.2C1797.9 623.22 1814.04 624.72 1817 623.6C1818.65 622.98 1821.09 620.38 1821.9 618.7C1823.45 615.48 1824 593.42 1824.7 593.4C1825.25 593.38 1826.82 605.47 1827.5 608.8C1828.18 612.16 1829.08 622.77 1831 624.3C1832.61 625.59 1840.58 625.14 1842.2 624.3C1843.39 623.69 1844.96 619.38 1845.7 619.4C1846.48 619.42 1847.78 624.18 1849.2 625C1851.82 626.51 1868.53 626.55 1871.7 625.7C1873.41 625.24 1876.2 622.12 1877.3 622.2C1878.3 622.27 1880.13 625.18 1881.5 625.7C1884.1 626.69 1898.86 627.91 1901.1 626.4C1902.55 625.43 1903.28 618.71 1903.9 618.7C1904.49 618.69 1905.28 624.74 1906.7 625.7C1909.15 627.36 1926.73 626.67 1929.2 625.7C1930.22 625.3 1931.32 623.13 1932 623.1C1932.81 623.07 1934.74 625.86 1936.2 626.4C1939.71 627.7 1960.33 627.5 1967 627.8"/>
<path fill="none" stroke="#111" stroke-width="2.9" stroke-linejoin="round" stroke-linecap="round" d="M1138.5 874C1143.01 874 1157.2 875.95 1159.3 874C1160.9 872.51 1158.85 863.27 1160.2 861.9C1161.45 860.64 1168.52 861.67 1170.5 861C1172.32 860.38 1176.43 857.73 1177.9 856.3C1179.72 854.53 1183.99 845.34 1185.4 845.2C1186.28 845.12 1188.15 848.94 1189.1 848.9C1190.69 848.83 1197 840.77 1198.4 837.7C1200.15 833.87 1200.86 815.66 1202.1 815.4C1202.77 815.26 1205.13 821.14 1205.8 821C1207 820.74 1208.58 804.35 1209.3 799.3C1210.13 793.48 1212.33 770.28 1212.9 770.3C1213.41 770.31 1213.03 790.87 1214.5 793.1C1215.16 794.1 1217.86 795.61 1218.6 795.2C1221.02 793.84 1221.42 745.52 1222.2 745.5C1222.65 745.49 1223.88 762.1 1224.3 762.1C1224.68 762.1 1225.58 748.59 1225.9 748.6C1226.39 748.61 1227.24 775.69 1227.9 780.7C1228.28 783.57 1229.61 791.02 1230 791C1230.64 790.96 1231.54 767.18 1232.1 762.1C1232.48 758.62 1233.6 748.64 1234.1 748.6C1234.42 748.58 1235.39 753.84 1235.7 753.8C1236.54 753.7 1237.76 713.4 1238.3 713.4C1238.75 713.4 1239.92 735.03 1240.3 741.4C1240.72 748.42 1241.49 775.49 1241.9 775.5C1242.19 775.51 1242.96 761.37 1243.4 757.9C1243.77 754.97 1245.05 745.5 1245.5 745.5C1245.95 745.5 1246.96 757.8 1247.6 757.9C1247.99 757.96 1249.32 753.74 1249.7 753.8C1250.33 753.9 1251 764.02 1251.7 766.2C1252.22 767.82 1254.06 772.14 1254.8 772.4C1255.23 772.55 1256.48 771.23 1256.9 771.4C1257.71 771.73 1259.43 779.76 1260 779.7C1260.93 779.6 1262.4 761.19 1263.1 756.9C1263.64 753.59 1265.24 743.37 1265.7 743.4C1266.39 743.44 1266.41 771.84 1267.8 774.5C1268.25 775.35 1269.78 776.59 1270.3 776.5C1271.01 776.37 1272.88 772.83 1273.4 771.4C1274.19 769.23 1274.65 758.11 1275.5 757.9C1276.02 757.77 1278.05 762.23 1278.6 762.1C1279.52 761.89 1280.77 747.58 1281.2 747.6C1281.76 747.63 1282.03 769.18 1282.8 772.4C1283.15 773.86 1284.42 777.14 1284.8 777.1C1285.36 777.04 1286.27 768.62 1286.9 766.2C1287.58 763.58 1289.67 754.54 1291 753.8C1291.76 753.37 1294.45 754.05 1295.2 754.8C1296.7 756.29 1298.02 768.64 1299.3 771.4C1300.22 773.39 1303.5 778.72 1304.5 778.6C1305.67 778.46 1308.33 770.4 1309.1 767.2C1310.39 761.85 1311.59 733.1 1312.2 733.1C1312.7 733.1 1313.36 752.25 1314.3 755.9C1314.89 758.18 1317.15 762.37 1317.9 764.1C1318.6 765.73 1320.27 769.73 1321 771.4C1321.83 773.3 1324.13 778.67 1325.2 780.7C1326.36 782.91 1330.32 791.15 1331.4 791C1332.64 790.82 1334.3 777.88 1335.5 775.5C1336.28 773.96 1338.86 771.72 1339.7 770.3C1340.83 768.38 1343.52 758.94 1344.3 759C1345.06 759.06 1345.94 769.91 1346.9 770.3C1347.44 770.52 1349.23 768.23 1350 768.3C1351.2 768.4 1355.19 774.51 1356.6 774.4C1358.23 774.28 1362.54 767.37 1364 765.1C1365.61 762.59 1369.17 752.06 1370.6 752.1C1372.2 752.14 1376.41 768.86 1378 768.9C1379.42 768.93 1383.34 758.99 1384.5 755.8C1385.86 752.06 1388.4 736.25 1389.2 736.3C1390.06 736.35 1391.21 759.57 1392 759.6C1392.81 759.63 1395.66 735.4 1396.6 735.4C1397.45 735.4 1398.89 752.24 1400.3 754.9C1401.12 756.44 1404.08 758.14 1405 759.6C1406.46 761.92 1409.43 775.48 1410.6 775.4C1412.3 775.29 1415.94 744.07 1418 740.9C1418.74 739.76 1421.03 737.94 1421.7 738.2C1423.03 738.71 1424.22 752.29 1425.5 755.8C1426.7 759.1 1430.94 768.04 1432.9 769.8C1434.26 771.02 1438.53 771.57 1440 772.6C1441.85 773.9 1446.28 781.71 1448 781.7C1449.72 781.69 1454.26 774.17 1455.9 772.6C1457.18 771.38 1460.66 769.58 1461.6 768.1C1462.96 765.96 1463.4 754.82 1465 753.3C1466.08 752.27 1470.66 753.18 1471.8 752.1C1473.74 750.27 1475.31 737.03 1476.4 732.8C1477.53 728.41 1480.99 716.76 1482.1 712.3C1483.2 707.87 1485.31 692 1486.6 691.8C1487.46 691.67 1490.34 697.61 1491.2 699.8C1492.46 703.01 1493.76 717.79 1495.7 719.1C1496.85 719.88 1501.08 717.81 1502.6 718C1504.28 718.21 1509.2 719.93 1510.5 721.4C1512.3 723.44 1513.81 734.41 1515.1 737.3C1516.14 739.63 1519.5 746.38 1520.8 746.4C1522.19 746.42 1526.2 736.06 1527.6 736.2C1529.43 736.38 1533.07 752.45 1535.5 755.5C1537.49 757.99 1544.19 762.27 1546.9 763.5C1549.63 764.74 1558.35 765.31 1560.6 766.9C1562.7 768.39 1566.16 777.17 1567.4 777.2C1568.24 777.22 1569.79 772.92 1570.8 772.6C1571.93 772.25 1576.34 773.9 1577.6 774.9C1579.15 776.12 1581.41 782.39 1583.3 784C1585.69 786.05 1595.88 789.4 1599.2 790.8C1602.28 792.1 1609.96 795.16 1612.9 796.5C1615.88 797.86 1623.8 803.01 1626.5 803.3C1628.62 803.53 1633.26 800.85 1635.6 801C1639.18 801.22 1652.34 809.17 1656.1 809C1658.96 808.87 1665.57 805.23 1667.5 803.3C1669.61 801.19 1673.15 793.53 1674.3 789.7C1676.14 783.57 1678.13 760.58 1678.9 751C1679.92 738.31 1680.67 691.54 1681.8 682.7C1682.29 678.88 1683.83 670.22 1684.5 670.2C1685.17 670.18 1687.37 678.86 1688 682.7C1689.44 691.52 1690.45 737.36 1691.4 751C1692.22 762.69 1694.09 793.32 1695.9 801C1696.94 805.43 1699.93 813.6 1702 816.6C1704.19 819.78 1712.24 826.68 1716 829.3C1720.87 832.7 1739.96 843.2 1744.1 844C1746.05 844.38 1749.11 843.09 1751.1 843.3C1755.18 843.74 1774.75 852.79 1779.1 852.4C1781.68 852.17 1786.46 847.3 1788.2 847.5C1789.78 847.68 1792.61 852.21 1794.6 853.1C1797.85 854.56 1814.02 856.8 1817 855.9C1818.6 855.42 1821.07 853.35 1821.9 851.7C1824 847.51 1823.96 810.32 1824.7 810.3C1825.24 810.28 1826.83 827.31 1827.5 832.1C1828.19 837.04 1828.64 852.76 1831 855.2C1832.65 856.91 1840.6 858.09 1842.2 857.3C1843.53 856.64 1844.96 850.29 1845.7 850.3C1846.47 850.31 1847.62 856.9 1849.2 858C1851.71 859.73 1867.09 860.41 1870.3 859.4C1872.39 858.74 1875.84 853.68 1877.3 853.8C1878.88 853.93 1882.23 860.58 1884.3 861.5C1886.82 862.61 1897.59 863.02 1899.7 861.5C1901.66 860.08 1903.12 848.87 1903.9 848.9C1904.62 848.93 1904.89 858.64 1906.7 860.1C1909.23 862.14 1926.76 862.33 1929.2 860.8C1930.55 859.95 1931.11 854.64 1932 854.5C1933.09 854.32 1936.66 861.13 1939 862.2C1942.84 863.96 1960.93 862.75 1967 862.9"/>
<rect x="1137.5" y="19.5" width="830" height="856" fill="none" stroke="#111" stroke-width="2.6"/>
<line x1="1137.5" y1="232.8" x2="1967.5" y2="232.8" stroke="#222" stroke-width="2.6"/>
<line x1="1137.5" y1="446.7" x2="1967.5" y2="446.7" stroke="#222" stroke-width="2.6"/>
<line x1="1137.5" y1="660.3" x2="1967.5" y2="660.3" stroke="#222" stroke-width="2.6"/>
<path d="M1137.5 209.4h14.5M1137.5 183.15h7.5M1137.5 156.9h14.5M1137.5 130.65h7.5M1137.5 104.4h14.5M1137.5 78.15h7.5M1137.5 51.9h14.5M1159.3 232.8v-14M1217.05 232.8v-7M1274.79 232.8v-14M1332.53 232.8v-7M1390.28 232.8v-14M1448.03 232.8v-7M1505.77 232.8v-14M1563.51 232.8v-7M1621.26 232.8v-14M1679.01 232.8v-7M1736.75 232.8v-14M1794.49 232.8v-7M1852.24 232.8v-14M1909.99 232.8v-7M1967.73 232.8v-14M1137.5 423.6h14.5M1137.5 397.2h7.5M1137.5 370.8h14.5M1137.5 344.4h7.5M1137.5 318h14.5M1137.5 291.6h7.5M1137.5 265.2h14.5M1159.3 446.7v-14M1217.05 446.7v-7M1274.79 446.7v-14M1332.53 446.7v-7M1390.28 446.7v-14M1448.03 446.7v-7M1505.77 446.7v-14M1563.51 446.7v-7M1621.26 446.7v-14M1679.01 446.7v-7M1736.75 446.7v-14M1794.49 446.7v-7M1852.24 446.7v-14M1909.99 446.7v-7M1967.73 446.7v-14M1137.5 636h14.5M1137.5 606.85h7.5M1137.5 577.7h14.5M1137.5 548.55h7.5M1137.5 519.4h14.5M1137.5 490.25h7.5M1137.5 461.1h14.5M1159.3 660.3v-14M1217.05 660.3v-7M1274.79 660.3v-14M1332.53 660.3v-7M1390.28 660.3v-14M1448.03 660.3v-7M1505.77 660.3v-14M1563.51 660.3v-7M1621.26 660.3v-14M1679.01 660.3v-7M1736.75 660.3v-14M1794.49 660.3v-7M1852.24 660.3v-14M1909.99 660.3v-7M1967.73 660.3v-14M1137.5 874h14.5M1137.5 841h7.5M1137.5 808h14.5M1137.5 775h7.5M1137.5 742h14.5M1137.5 709h7.5M1137.5 676h14.5M1159.3 875.5v-14M1217.05 875.5v-7M1274.79 875.5v-14M1332.53 875.5v-7M1390.28 875.5v-14M1448.03 875.5v-7M1505.77 875.5v-14M1563.51 875.5v-7M1621.26 875.5v-14M1679.01 875.5v-7M1736.75 875.5v-14M1794.49 875.5v-7M1852.24 875.5v-14M1909.99 875.5v-7M1967.73 875.5v-14" stroke="#111" stroke-width="2.4" fill="none"/>
<g font-family="'Liberation Sans', Arial, Helvetica, sans-serif" font-weight="bold" font-size="34" fill="#000" text-anchor="end">
<text x="1120" y="61.2" textLength="89" lengthAdjust="spacingAndGlyphs">60000</text>
<text x="1120" y="113.7" textLength="89" lengthAdjust="spacingAndGlyphs">40000</text>
<text x="1120" y="166.2" textLength="89" lengthAdjust="spacingAndGlyphs">20000</text>
<text x="1120" y="218.7" textLength="17.8" lengthAdjust="spacingAndGlyphs">0</text>
<text x="1120" y="274.5" textLength="89" lengthAdjust="spacingAndGlyphs">60000</text>
<text x="1120" y="327.3" textLength="89" lengthAdjust="spacingAndGlyphs">40000</text>
<text x="1120" y="380.1" textLength="89" lengthAdjust="spacingAndGlyphs">20000</text>
<text x="1120" y="432.9" textLength="17.8" lengthAdjust="spacingAndGlyphs">0</text>
<text x="1120" y="470.4" textLength="89" lengthAdjust="spacingAndGlyphs">60000</text>
<text x="1120" y="528.7" textLength="89" lengthAdjust="spacingAndGlyphs">40000</text>
<text x="1120" y="587" textLength="89" lengthAdjust="spacingAndGlyphs">20000</text>
<text x="1120" y="645.3" textLength="17.8" lengthAdjust="spacingAndGlyphs">0</text>
<text x="1120" y="685.3" textLength="89" lengthAdjust="spacingAndGlyphs">60000</text>
<text x="1120" y="751.3" textLength="89" lengthAdjust="spacingAndGlyphs">40000</text>
<text x="1120" y="817.3" textLength="89" lengthAdjust="spacingAndGlyphs">20000</text>
<text x="1120" y="883.3" textLength="17.8" lengthAdjust="spacingAndGlyphs">0</text>
</g>
<g font-family="'Liberation Sans', Arial, Helvetica, sans-serif" font-weight="bold" font-size="31" fill="#000" text-anchor="middle">
<text x="1159.3" y="916" textLength="51" lengthAdjust="spacingAndGlyphs">200</text>
<text x="1274.79" y="916" textLength="51" lengthAdjust="spacingAndGlyphs">300</text>
<text x="1390.28" y="916" textLength="51" lengthAdjust="spacingAndGlyphs">400</text>
<text x="1505.77" y="916" textLength="51" lengthAdjust="spacingAndGlyphs">500</text>
<text x="1621.26" y="916" textLength="51" lengthAdjust="spacingAndGlyphs">600</text>
<text x="1736.75" y="916" textLength="51" lengthAdjust="spacingAndGlyphs">700</text>
<text x="1852.24" y="916" textLength="51" lengthAdjust="spacingAndGlyphs">800</text>
<text x="1967.73" y="916" textLength="51" lengthAdjust="spacingAndGlyphs">900</text>
</g>
<rect x="143.4" y="16.6" width="204.4" height="34.7" fill="#fff" stroke="#999" stroke-width="2.4"/>
<line x1="154" y1="35.5" x2="219.3" y2="35.5" stroke="#3a3aff" stroke-width="4.2" stroke-linecap="round"/>
<text x="226.7" y="43.8" font-family="'Liberation Sans', Arial, Helvetica, sans-serif" font-weight="bold" font-size="27" textLength="114.6" lengthAdjust="spacingAndGlyphs">400sccm</text>
<rect x="143.4" y="230.6" width="204.4" height="34.4" fill="#fff" stroke="#999" stroke-width="2.4"/>
<line x1="154" y1="249.4" x2="219.3" y2="249.4" stroke="#33ee33" stroke-width="4.2" stroke-linecap="round"/>
<text x="226.7" y="258.8" font-family="'Liberation Sans', Arial, Helvetica, sans-serif" font-weight="bold" font-size="27" textLength="114.6" lengthAdjust="spacingAndGlyphs">300sccm</text>
<rect x="143.4" y="444.4" width="204.4" height="34.4" fill="#fff" stroke="#999" stroke-width="2.4"/>
<line x1="154" y1="463.5" x2="219.3" y2="463.5" stroke="#ff2a2a" stroke-width="4.2" stroke-linecap="round"/>
<text x="226.7" y="472.5" font-family="'Liberation Sans', Arial, Helvetica, sans-serif" font-weight="bold" font-size="27" textLength="114.6" lengthAdjust="spacingAndGlyphs">200sccm</text>
<rect x="143.4" y="658.9" width="204.4" height="34.3" fill="#fff" stroke="#999" stroke-width="2.4"/>
<line x1="154" y1="676.9" x2="219.3" y2="676.9" stroke="#111" stroke-width="4.2" stroke-linecap="round"/>
<text x="226.7" y="686.9" font-family="'Liberation Sans', Arial, Helvetica, sans-serif" font-weight="bold" font-size="27" textLength="114.6" lengthAdjust="spacingAndGlyphs">100sccm</text>
<rect x="1138.4" y="19.6" width="232.6" height="37.8" fill="#fff" stroke="#999" stroke-width="2.4"/>
<line x1="1150.5" y1="40.3" x2="1215.3" y2="40.3" stroke="#2a2aff" stroke-width="3.6" stroke-linecap="round"/>
<text x="1230.5" y="49.9" font-family="'Liberation Sans', Arial, Helvetica, sans-serif" font-weight="bold" font-size="30.5" textLength="133.8" lengthAdjust="spacingAndGlyphs">800 sccm</text>
<rect x="1138.4" y="232.9" width="224.5" height="37.8" fill="#fff" stroke="#999" stroke-width="2.4"/>
<line x1="1150.5" y1="254.4" x2="1215.3" y2="254.4" stroke="#33ee33" stroke-width="3.6" stroke-linecap="round"/>
<text x="1222.6" y="263.2" font-family="'Liberation Sans', Arial, Helvetica, sans-serif" font-weight="bold" font-size="30.5" textLength="133.8" lengthAdjust="spacingAndGlyphs">600 sccm</text>
<rect x="1138.4" y="446.8" width="224.5" height="37.6" fill="#fff" stroke="#999" stroke-width="2.4"/>
<line x1="1150.5" y1="467.8" x2="1215.3" y2="467.8" stroke="#ff3030" stroke-width="3.6" stroke-linecap="round"/>
<text x="1222.6" y="477.6" font-family="'Liberation Sans', Arial, Helvetica, sans-serif" font-weight="bold" font-size="30.5" textLength="133.8" lengthAdjust="spacingAndGlyphs">400 sccm</text>
<rect x="1138.4" y="660.4" width="224.5" height="37.8" fill="#fff" stroke="#999" stroke-width="2.4"/>
<line x1="1150.5" y1="681.9" x2="1215.3" y2="681.9" stroke="#505050" stroke-width="3.6" stroke-linecap="round"/>
<text x="1222.6" y="691.3" font-family="'Liberation Sans', Arial, Helvetica, sans-serif" font-weight="bold" font-size="30.5" textLength="133.8" lengthAdjust="spacingAndGlyphs">100 sccm</text>
<line x1="140.5" y1="15.2" x2="140.5" y2="874.3" stroke="#111" stroke-width="2.6"/>
<line x1="1137.5" y1="18.2" x2="1137.5" y2="876.8" stroke="#111" stroke-width="2.6"/>
<text x="410.4" y="944.3" font-family="'Liberation Sans', Arial, Helvetica, sans-serif" font-weight="bold" font-size="35" textLength="291" lengthAdjust="spacingAndGlyphs">Wave length (nm)</text>
<text x="1383.2" y="953.8" font-family="'Liberation Sans', Arial, Helvetica, sans-serif" font-weight="bold" font-size="34" textLength="280" lengthAdjust="spacingAndGlyphs">Wavelength (nm)</text>
<text transform="translate(33,578.7) rotate(-90)" x="0" y="0" font-family="'Liberation Sans', Arial, Helvetica, sans-serif" font-weight="bold" font-size="33" textLength="235" lengthAdjust="spacingAndGlyphs">Intensity (a.u)</text>
<text transform="translate(1011.5,551.4) rotate(-90)" x="0" y="0" font-family="'Liberation Sans', Arial, Helvetica, sans-serif" font-weight="bold" font-size="32.4" textLength="230" lengthAdjust="spacingAndGlyphs">Intensity (a.u)</text>
<text x="433" y="50" font-family="'Liberation Sans', Arial, Helvetica, sans-serif" font-weight="bold" font-size="34" textLength="186.5" lengthAdjust="spacingAndGlyphs">0 ml/L H<tspan dy="11.5">2</tspan><tspan dy="-11.5">O</tspan><tspan dy="11.5">2</tspan></text>
<text x="1382.5" y="55.7" font-family="'Liberation Sans', Arial, Helvetica, sans-serif" font-weight="bold" font-size="34.5" textLength="231.5" lengthAdjust="spacingAndGlyphs">0.35 ml/L H<tspan dy="10.6">2</tspan><tspan dy="-10.6">O</tspan><tspan dy="10.6">2</tspan></text>
<g font-family="'Liberation Sans', Arial, Helvetica, sans-serif" font-weight="bold" fill="#000">
<text x="702.3" y="46.3" font-size="34" textLength="177.7" lengthAdjust="spacingAndGlyphs">OH.=309nm</text>
<text x="702.5" y="87.5" font-size="32" textLength="21" lengthAdjust="spacingAndGlyphs">H</text>
<text x="726" y="87.5" font-family="'Liberation Serif', 'Times New Roman', serif" font-weight="bold" font-size="32" textLength="18" lengthAdjust="spacingAndGlyphs">&#945;</text>
<text x="753.6" y="88.7" font-size="28" fill="#b0b0b0" stroke="#b0b0b0" stroke-width="2" textLength="13.5" lengthAdjust="spacingAndGlyphs">=</text>
<text x="778.1" y="87.5" font-family="'Liberation Serif', 'Times New Roman', serif" font-weight="bold" font-size="31" textLength="44.6" lengthAdjust="spacingAndGlyphs">656</text>
<text x="832.7" y="87.5" font-size="33" textLength="46.1" lengthAdjust="spacingAndGlyphs">nm</text>
<text x="702.5" y="127.1" font-size="32" textLength="21" lengthAdjust="spacingAndGlyphs">H</text>
<text x="727" y="127.1" font-family="'Liberation Serif', 'Times New Roman', serif" font-weight="bold" font-size="32" textLength="14.6" lengthAdjust="spacingAndGlyphs">&#946;</text>
<text x="752" y="129.3" font-size="27" fill="#b0b0b0" stroke="#b0b0b0" stroke-width="2" textLength="12" lengthAdjust="spacingAndGlyphs">=</text>
<text x="768.1" y="127.1" font-size="32" textLength="100.7" lengthAdjust="spacingAndGlyphs">484nm</text>
<text x="702.3" y="168.2" font-size="31.5" textLength="268" lengthAdjust="spacingAndGlyphs">O=777nm, 844nm</text>
</g>
<g font-family="'Liberation Sans', Arial, Helvetica, sans-serif" font-weight="bold" fill="#000">
<text x="1694.8" y="43.8" font-size="34" textLength="177.7" lengthAdjust="spacingAndGlyphs">OH.=309nm</text>
<text x="1695" y="85" font-size="32" textLength="21" lengthAdjust="spacingAndGlyphs">H</text>
<text x="1718.5" y="85" font-family="'Liberation Serif', 'Times New Roman', serif" font-weight="bold" font-size="32" textLength="18" lengthAdjust="spacingAndGlyphs">&#945;</text>
<text x="1746.1" y="86.2" font-size="28" fill="#b0b0b0" stroke="#b0b0b0" stroke-width="2" textLength="13.5" lengthAdjust="spacingAndGlyphs">=</text>
<text x="1770.6" y="85" font-family="'Liberation Serif', 'Times New Roman', serif" font-weight="bold" font-size="31" textLength="44.6" lengthAdjust="spacingAndGlyphs">656</text>
<text x="1825.2" y="85" font-size="33" textLength="46.1" lengthAdjust="spacingAndGlyphs">nm</text>
<text x="1695" y="124.6" font-size="32" textLength="21" lengthAdjust="spacingAndGlyphs">H</text>
<text x="1719.5" y="124.6" font-family="'Liberation Serif', 'Times New Roman', serif" font-weight="bold" font-size="32" textLength="14.6" lengthAdjust="spacingAndGlyphs">&#946;</text>
<text x="1744.5" y="126.8" font-size="27" fill="#b0b0b0" stroke="#b0b0b0" stroke-width="2" textLength="12" lengthAdjust="spacingAndGlyphs">=</text>
<text x="1760.6" y="124.6" font-size="32" textLength="100.7" lengthAdjust="spacingAndGlyphs">484nm</text>
<text x="1694.8" y="165.7" font-size="31.5" textLength="266" lengthAdjust="spacingAndGlyphs">O=777nm, 844nm</text>
</g>
<text x="926.6" y="50.5" font-family="'Liberation Sans', Arial, Helvetica, sans-serif" font-weight="bold" font-size="34.5" textLength="39" lengthAdjust="spacingAndGlyphs">(a)</text>
<text x="1923.5" y="54" font-family="'Liberation Sans', Arial, Helvetica, sans-serif" font-weight="bold" font-size="34" textLength="43.2" lengthAdjust="spacingAndGlyphs">(b)</text>
</g>
</svg>
</body></html>
